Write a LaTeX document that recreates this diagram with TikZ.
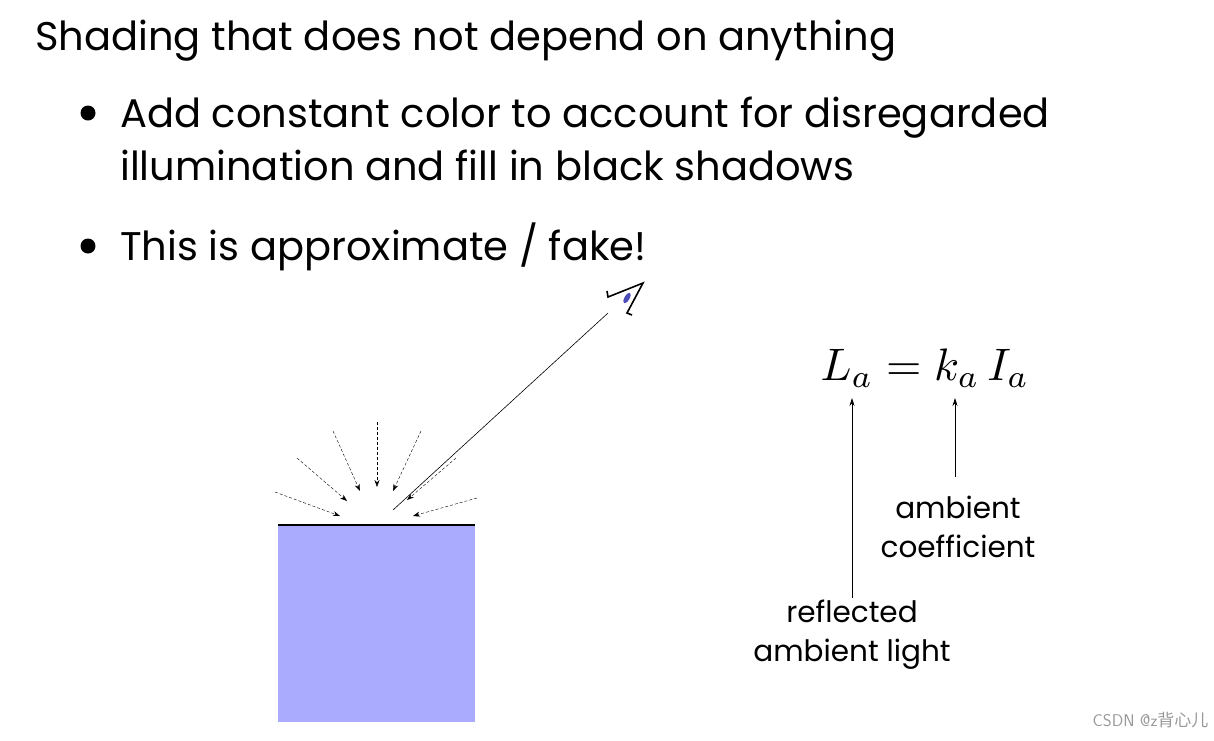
\documentclass[tikz,border=0pt]{standalone}
\usepackage{fontspec}
\usetikzlibrary{arrows.meta}
\setmainfont{Poppins}
\newfontfamily\cjk{Noto Sans CJK SC}
\begin{document}
\begin{tikzpicture}[x=1pt,y=-1pt,
  amb/.style={densely dashed,-{Stealth[length=7pt,width=5pt]},thin},
  lbl/.style={font=\fontsize{29.5}{39}\selectfont,align=center},
  big/.style={font=\fontsize{40}{53}\selectfont,anchor=base west,inner sep=0pt}]
\useasboundingbox (0,0) rectangle (1214,740);
\node[big] (t) at (35,50) {Shading that does not depend on anything};
\fill (88,113) circle (7.5);
\node[big] (b1) at (120,127) {Add constant color to account for disregarded};
\node[big] (b1b) at (120,180) {illumination and fill in black shadows};
\fill (88,246) circle (7.5);
\node[big] (b2) at (120,260) {This is approximate / fake!};
% box
\fill[fill={rgb,255:red,170;green,170;blue,255}] (278,526) rectangle (475,722);
\draw[line width=2.5pt] (278,525) -- (475,525);
% dashed arrows
\draw[amb] (275,492) -- (340,516);
\draw[amb] (297,458) -- (347,501);
\draw[amb] (333,431) -- (360,491);
\draw[amb] (377,422) -- (377,487);
\draw[amb] (421,431) -- (393,491);
\draw[amb] (456,458) -- (407,500);
\draw[amb] (477,498) -- (413,516);
% view ray
\coordinate (p) at (393,510);
\coordinate (e) at (608,313);
\draw[semithick] (p) -- (e);
% eye
\fill[blue!60!black!70] (627,298) ellipse [x radius=2.5,y radius=6, rotate=-30];
\draw[line width=1.6pt] (607,291) -- (608,297) -- (643,283) -- (627,313) -- (632,315);
% equation
\node (eq) at (925,368) {\scalebox{4.55}{$L_a = k_a\, I_a$}};
\node[lbl] (ac) at (958,527) {ambient\\coefficient};
\node[lbl] (ra) at (852,635) {reflected\\ambient light};
\draw[semithick,-{Stealth[length=8pt,width=5pt]}] (852,598) -- (852,398);
\draw[semithick,-{Stealth[length=8pt,width=5pt]}] (955,477) -- (955,398);
\node[font=\fontsize{17}{20}\selectfont\sffamily,text=black!40,anchor=east] (wm) at (1212,720) {CSDN @z{\cjk 背心儿}};
\end{tikzpicture}
\end{document}
